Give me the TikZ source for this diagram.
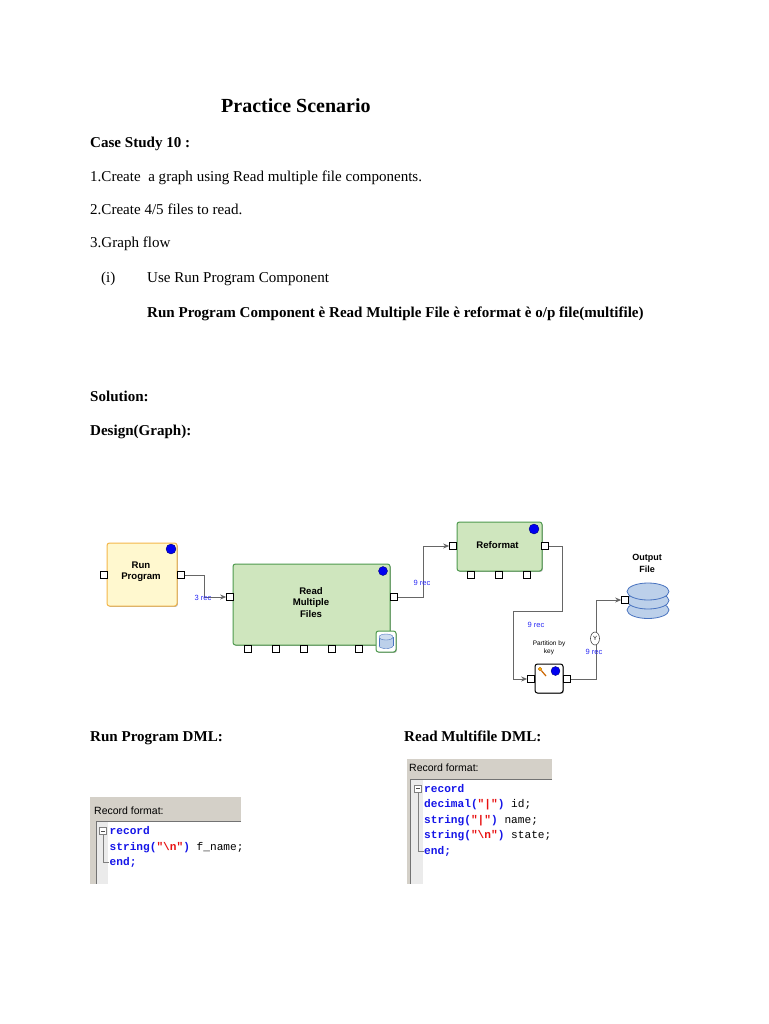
\documentclass[tikz,border=0pt]{standalone}
\usepackage{fontspec}
\setmainfont{Liberation Serif}
\setsansfont{Liberation Sans}
\setmonofont{Liberation Mono}
\usetikzlibrary{arrows.meta,shadows,shapes.geometric}
\definecolor{compgreen}{HTML}{CFE6BE}
\definecolor{compgreenline}{HTML}{4E9A4E}
\definecolor{compyellow}{HTML}{FFF8CF}
\definecolor{compyellowline}{HTML}{F4B64A}
\definecolor{dotblue}{HTML}{0000F0}
\definecolor{panelgrey}{HTML}{D4D0C8}
\definecolor{diskblue}{HTML}{BCD0EA}
\definecolor{diskline}{HTML}{4A74C0}
\definecolor{reclabel}{HTML}{2A2AF5}
\definecolor{kwblue}{HTML}{1515E8}
\definecolor{strred}{HTML}{E81010}
\tikzset{
  txt/.style={anchor=base west,inner sep=0pt,font=\fontsize{15.05}{18}\selectfont},
  btxt/.style={txt,font=\fontsize{15.05}{18}\selectfont\bfseries},
  comp/.style={draw=#1,line width=1pt,rounded corners=2.5pt,drop shadow={shadow xshift=0.8pt,shadow yshift=-0.8pt,fill=gray!70,opacity=1},minimum width=0pt,inner sep=0pt},
  port/.style={draw=black,line width=0.7pt,fill=white,minimum width=7pt,minimum height=7pt,inner sep=0pt,drop shadow={shadow xshift=0.8pt,shadow yshift=-0.8pt,fill=gray!70,opacity=1}},
  dot/.style={circle,fill=dotblue,draw=black!60!blue,line width=0.3pt,minimum size=10pt,inner sep=0pt},
  conn/.style={draw=black!60,line width=0.9pt,-{Stealth[length=6pt,width=5pt]}},
  rec/.style={inner sep=0pt,text=reclabel,font=\sffamily\fontsize{7.5}{9}\selectfont},
  cname/.style={inner sep=0pt,align=center,font=\sffamily\bfseries\fontsize{9.6}{11.5}\selectfont},
  oname/.style={inner sep=0pt,align=center,font=\sffamily\bfseries\fontsize{9}{12}\selectfont},
  code/.style={anchor=base west,inner sep=0pt,font=\ttfamily\bfseries\fontsize{11.15}{13}\selectfont},
  panelhead/.style={anchor=base west,inner sep=0pt,font=\sffamily\fontsize{10.5}{12}\selectfont},
  disk/.style={ellipse,draw=diskline,fill=diskblue,line width=0.8pt,minimum width=42pt,minimum height=17pt,inner sep=0pt},
}
\newcommand{\kw}[1]{\textcolor{kwblue}{#1}}
\newcommand{\st}[1]{\textcolor{strred}{#1}}
\newcommand{\pl}[1]{{\mdseries #1}}
\begin{document}
\begin{tikzpicture}[x=1pt,y=-1pt]
\useasboundingbox[fill=white] (0,0) rectangle (768,1024);
% page text
\node[txt,font=\fontsize{20}{24}\selectfont\bfseries] (title) at (221,112.2) {Practice Scenario};
\node[btxt] (t1) at (90,147.2) {Case Study 10 :};
\node[txt] (t2) at (90,181.7) {1.Create \ a graph using Read multiple file components.};
\node[txt] (t3) at (90,214.7) {2.Create 4/5 files to read.};
\node[txt] (t4) at (90,247.7) {3.Graph flow};
\node[txt] (t5) at (101,282) {(i)};
\node[txt] (t6) at (147,282) {Use Run Program Component};
\node[btxt] (t7) at (147,317) {Run Program Component è Read Multiple File è reformat è o/p file(multifile)};
\node[btxt] (t8) at (90,401.7) {Solution:};
\node[btxt] (t9) at (90,435) {Design(Graph):};
\node[btxt] (t10) at (90,741.2) {Run Program DML:};
\node[btxt] (t11) at (404,741.2) {Read Multifile DML:};
% components
\node[comp=compyellowline,fill=compyellow,minimum width=70pt,minimum height=63pt] (run) at (142,574.5) {};
\node[cname] (runl) at (141,571.5) {Run\\Program};
\node[dot] (rund) at (171,549) {};
\node[port] (runin) at (104,575) {};
\node[port] (runout) at (181,575) {};
\node[comp=compgreenline,fill=compgreen,minimum width=157pt,minimum height=81pt] (read) at (311.5,604.5) {};
\node[cname] (readl) at (311,602.5) {Read\\Multiple\\Files};
\node[dot,minimum size=9pt] (readd) at (383,571) {};
\node[port] (readin) at (230,597) {};
\node[port] (readout) at (394,597) {};
\foreach \n/\x in {a/248,b/276,c/304,d/332,e/359}{\node[port] (read\n) at (\x,649) {};}
\node[comp=compgreenline,fill=white,minimum width=20pt,minimum height=21pt] (readicon) at (386,641.5) {};
\node[ellipse,draw=diskline,fill=diskblue,minimum width=14pt,minimum height=5pt,inner sep=0pt] (iconb) at (386,646) {};
\fill[diskblue] (379,637) rectangle (393,646);
\draw[diskline,line width=0.6pt] (379,637) -- (379,646) (393,637) -- (393,646);
\node[ellipse,draw=diskline,fill=diskblue!70!white,minimum width=14pt,minimum height=6pt,inner sep=0pt] (icont) at (386,637) {};
\node[comp=compgreenline,fill=compgreen,minimum width=85pt,minimum height=49pt] (ref) at (499.5,546.5) {};
\node[cname] (refl) at (497.5,545.5) {Reformat};
\node[dot] (refd) at (534,529) {};
\node[port] (refin) at (453,546) {};
\node[port] (refout) at (545,546) {};
\foreach \n/\x in {a/471,b/499,c/527}{\node[port] (ref\n) at (\x,575) {};}
\node[comp=black,fill=white,minimum width=28pt,minimum height=29pt] (part) at (549,678.5) {};
\node[inner sep=0pt,align=center,font=\sffamily\fontsize{6.5}{8.5}\selectfont] (partl) at (549,648) {Partition by\\key};
\node[dot,minimum size=9pt] (partd) at (555.5,671) {};
\node[circle,draw=orange!80!black,fill=yellow!60!orange,minimum size=3.5pt,inner sep=0pt,line width=0.6pt] (key) at (540,669) {};
\draw[orange!80!black,line width=1.2pt] (key) -- (546,676);
\node[port] (partin) at (531,679) {};
\node[port] (partout) at (567,679) {};
% output file
\node[oname] (outl) at (647,563) {Output\\File};
\node[disk] (d3) at (648,610) {};
\node[disk] (d2) at (648,600.5) {};
\node[disk] (d1) at (648,591.5) {};
\node[port] (outin) at (625,600) {};
% connectors
\draw[conn] (runout.east) -- (204,0 |- runout) -- (204,0 |- readin) -- (readin.west);
\draw[conn] (readout.east) -- (423,0 |- readout) -- (423,0 |- refin) -- (refin.west);
\draw[conn] (refout.east) -- (562,0 |- refout) -- (562,611) -- (513,611) -- (513,0 |- partin) -- (partin.west);
\draw[conn] (partout.east) -- (596,0 |- partout) -- (596,0 |- outin) -- (outin.west);
\node[ellipse,draw=black!70,fill=white,line width=0.6pt,minimum width=9pt,minimum height=13pt,inner sep=0pt,font=\sffamily\fontsize{6}{6}\selectfont] (flow) at (595,638.5) {Y};
\node[rec] (r1) at (203,598) {3 rec};
\node[rec] (r2) at (422,583) {9 rec};
\node[rec] (r3) at (536,624.5) {9 rec};
\node[rec] (r4) at (594,651.5) {9 rec};
% panel 1
\fill[panelgrey] (90,797) rectangle (241,884);
\fill[white] (97,822) rectangle (241,884);
\fill[black!8] (97,822) rectangle (108,884);
\draw[black!55,line width=1.2pt] (241,821.5) -- (96.5,821.5) -- (96.5,884);
\node[panelhead] (ph1) at (94,814) {Record format:};
\node[draw=black!50,fill=white,minimum size=7pt,inner sep=0pt] (tree1) at (103,831) {};
\draw[black!70,line width=0.5pt] ([xshift=-2pt]tree1.center) -- ([xshift=2pt]tree1.center);
\draw[black!50,line width=0.5pt] (tree1.south) -- (103,862) -- (109,862);
\node[code] (c11) at (109.5,834.5) {\kw{record}};
\node[code] (c12) at (109.5,850) {\kw{string(}\st{"\textbackslash n"}\kw{)} \pl{f\_name;}};
\node[code] (c13) at (109.5,865.5) {\kw{end;}};
% panel 2
\fill[panelgrey] (407,759) rectangle (552,884);
\fill[white] (411,780) rectangle (552,884);
\fill[black!8] (411,780) rectangle (423,884);
\draw[black!55,line width=1.2pt] (552,779.5) -- (410.5,779.5) -- (410.5,884);
\node[panelhead] (ph2) at (409,771.5) {Record format:};
\node[draw=black!50,fill=white,minimum size=7pt,inner sep=0pt] (tree2) at (418,788.5) {};
\draw[black!70,line width=0.5pt] ([xshift=-2pt]tree2.center) -- ([xshift=2pt]tree2.center);
\draw[black!50,line width=0.5pt] (tree2.south) -- (418,851) -- (424,851);
\node[code] (c21) at (424,792) {\kw{record}};
\node[code] (c22) at (424,807.5) {\kw{decimal(}\st{"|"}\kw{)} \pl{id;}};
\node[code] (c23) at (424,823) {\kw{string(}\st{"|"}\kw{)} \pl{name;}};
\node[code] (c24) at (424,838.5) {\kw{string(}\st{"\textbackslash n"}\kw{)} \pl{state;}};
\node[code] (c25) at (424,854) {\kw{end;}};
\end{tikzpicture}
\end{document}
